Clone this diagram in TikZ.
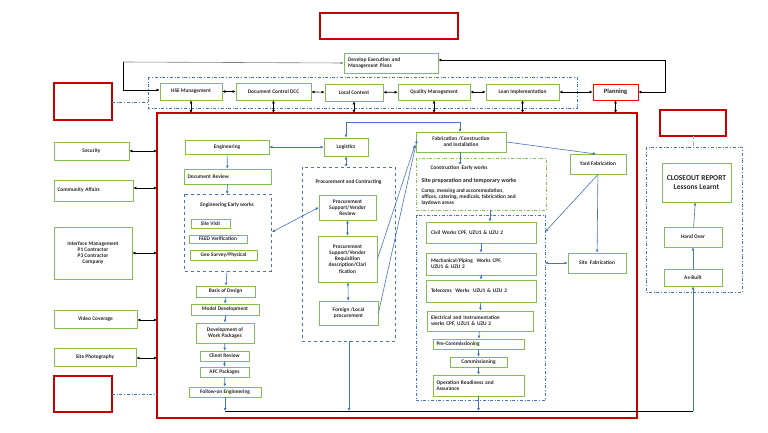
\documentclass[tikz,border=0pt]{standalone}
\usepackage{fontspec}
\setmainfont{Carlito}
\usetikzlibrary{arrows.meta}
\definecolor{gr}{RGB}{130,190,80}
\definecolor{bl}{RGB}{70,114,196}
\definecolor{rd}{RGB}{200,0,0}
\begin{document}
\begin{tikzpicture}[x=1pt,y=-1pt,
 every node/.style={font=\fontsize{5.4}{6.2}\selectfont\bfseries, text=black!85},
 g/.style={draw=gr,line width=0.8pt,align=center,inner sep=0},
 r/.style={draw=rd,line width=1.2pt},
 ba/.style={-{Latex[length=3pt,width=3pt]},bl,line width=0.6pt},
 bd/.style={{Latex[length=3pt,width=3pt]}-{Latex[length=3pt,width=3pt]},bl,line width=0.6pt},
 kd/.style={{Latex[length=3pt,width=3pt]}-{Latex[length=3pt,width=3pt]},black,line width=0.6pt},
 ka/.style={-{Latex[length=3pt,width=3pt]},black,line width=0.6pt},
 dd/.style={draw=bl,dash dot,line width=0.6pt},
 ds/.style={draw=bl,dashed,line width=0.6pt}]
\useasboundingbox (0,0) rectangle (768,433);
% red empty boxes
\draw[r] (320,13) rectangle (458,39);
\draw[r] (54,83) rectangle (112,120);
\draw[r] (54,376) rectangle (112,412);
\draw[r] (660,110) rectangle (726,136);
\draw[rd,line width=1.5pt] (157,113) rectangle (637,418);
% top band
\draw[dd] (148,77) rectangle (577,108);
\node[g,minimum width=94,minimum height=20,align=left,text width=86] (dev) at (391,63) {Develop Execution and\\Management Plans};
\node[g,minimum width=62,minimum height=17] (hse) at (191,91.5) {HSE Management};
\node[g,minimum width=75,minimum height=17] (dcc) at (273.5,91.5) {Document Control DCC};
\node[g,minimum width=58,minimum height=17] (lc) at (354,92.5) {Local Content};
\node[g,minimum width=72,minimum height=16] (qm) at (434,92) {Quality Management};
\node[g,minimum width=73,minimum height=16] (lean) at (522.5,92) {Lean Implementation};
\node[draw=red,line width=0.8pt,minimum width=45,minimum height=16,inner sep=0,font=\fontsize{6.5}{7}\selectfont\bfseries] (plan) at (615.5,92) {Planning};
\draw[kd] (hse) -- (dcc); \draw[kd] (dcc) -- (lc); \draw[kd] (lc) -- (qm); \draw[kd] (qm) -- (lean); \draw[kd] (lean) -- (plan);
\coordinate (tl) at (123,62); \coordinate (tl2) at (123,90);
\draw[gray,line width=0.6pt,-{Latex[length=3pt,width=3pt]}] (tl) -- (dev.west);
\draw[ka] (tl) -- (tl2) -- (hse.west|-tl2);
\coordinate (tr) at (665,60); \coordinate (tr2) at (665,92);
\draw[ka] (tr) -- (dev.east|-tr);
\draw[ka] (tr) -- (tr2) -- (plan.east);
\foreach \n in {hse,dcc,lc,qm,lean,plan}{\draw[kd] (\n.south) -- (\n.south|-{(0,113)});}
\draw[bl,dash dot,line width=0.6pt] (112,102) -- (148,102);
\draw[bl,dash dot,line width=0.6pt] (112,394) -- (157,394);
% left column
\node[g,minimum width=75,minimum height=18] (sec) at (91.5,151) {Security};
\node[g,minimum width=79,minimum height=21,align=left,text width=72] (ca) at (93.5,190.5) {Community Affairs};
\node[g,minimum width=78,minimum height=52] (im) at (93,253) {Interface Management\\P1 Contractor\\P3 Contractor\\Company};
\node[g,minimum width=83,minimum height=18] (vc) at (95.5,319) {Video Coverage};
\node[g,minimum width=82,minimum height=18] (sp) at (95,357) {Site Photography};
\foreach \n/\y in {sec/151,ca/188,im/253,vc/320,sp/358}{\draw[kd] (\n.east|-{(0,\y)}) -- (157,\y);}
% engineering
\node[g,minimum width=84,minimum height=14] (eng) at (227,147) {Engineering};
\node[g,minimum width=87,minimum height=15,align=left,text width=80] (dr) at (227.5,176.5) {Document Review};
\draw[ds] (184,194) rectangle (271,271);
\node (eew) at (227,205) {Engineering Early works};
\node[g,minimum width=39,minimum height=9] (sv) at (210.5,223.5) {Site Visit};
\node[g,minimum width=58,minimum height=8] (fv) at (218,239) {FEED Verification};
\node[g,minimum width=67,minimum height=10] (gs) at (223.5,255) {Geo Survey/Physical};
\coordinate (eewb) at (227,271);
\node[g,minimum width=59,minimum height=11] (bod) at (225.5,291.5) {Basis of Design};
\node[g,minimum width=68,minimum height=11] (md) at (225,309.5) {Model Development};
\node[g,minimum width=58,minimum height=20] (dwp) at (225,333) {Development of\\Work Packages};
\node[g,minimum width=49,minimum height=10] (cr) at (224.5,356) {Client Review};
\node[g,minimum width=49,minimum height=10] (afc) at (224.5,372) {AFC Packages};
\node[g,minimum width=72,minimum height=10] (foe) at (225,392) {Follow-on Engineering};
\draw[ba] (eng) -- (dr); \draw[ba] (dr.south) -- (227,194);
\draw[ba] (eewb) -- (bod); \draw[ba] (bod) -- (md); \draw[ba] (md) -- (dwp); \draw[ba] (dwp) -- (cr); \draw[ba] (cr) -- (afc); \draw[ba] (afc) -- (foe);
\coordinate (bl1) at (225,411); \coordinate (bl2) at (693,411);
\draw[ba] (foe) -- (bl1);
\draw[black,line width=0.8pt] (bl1) -- (bl2);
% procurement
\node[g,minimum width=44,minimum height=18] (log) at (346,147) {Logistics};
\draw[bd] (eng) -- (log);
\draw[ds] (302,167) rectangle (395,341);
\node at (348.5,182) {Procurement and Contracting};
\node[g,minimum width=57,minimum height=25] (psr) at (347.5,207.5) {Procurement\\Support/Vendor\\Review};
\node[g,minimum width=59,minimum height=46] (psq) at (347.5,259) {Procurement\\Support/Vendor\\Requisition\\description/Clari\\fication};
\node[g,minimum width=59,minimum height=24] (fl) at (348.5,313) {Foreign /Local\\procurement};
\draw[bd] (log.south) -- (346,167);
\draw[bd] (psr) -- (psq); \draw[bd] (psq) -- (fl);
\draw[bd] (272,232) -- (psr.west);
\draw[ba] (349,341) -- (349,411);
% fabrication
\node[g,minimum width=90,minimum height=20] (fab) at (461,142) {Fabrication /Construction\\and Installation};
\draw[bd] (log.north) -- (346,122) -- (460,122) -- (460,132);
\draw[ba] (psq.east) -- (415,145);
\draw[ba] (fl.east) -- (417,140);
\node[g,minimum width=56,minimum height=20] (yard) at (598,164) {Yard Fabrication};
\draw[ba] (fab.east) -- (596,154);
\draw[gr,dash dot,line width=0.6pt] (416,158) rectangle (546,210);
\draw[ba] (460,152) -- (460,165);
\node[anchor=west] at (427,168) {Construction\ \ Early works};
\node[anchor=west,font=\fontsize{6}{6.5}\selectfont\bfseries] at (418,181) {Site preparation and temporary works};
\node[anchor=north west,align=left] at (418,185) {Camp, messing and accommodation,\\offices, catering, medicals, fabrication and\\laydown areas};
\draw[dd] (416,215) rectangle (545,400);
\node[g,minimum width=110,minimum height=21,align=left,text width=100] (civ) at (481,232.5) {Civil Works CPF, UZU1 \& UZU 2};
\node[g,minimum width=110,minimum height=22,align=left,text width=100] (mec) at (481,264) {Mechanical/Piping\ \ Works CPF,\\UZU1 \& UZU 2};
\node[g,minimum width=110,minimum height=22,align=left,text width=100] (tel) at (481,291) {Telecoms\ \ Works\ \ UZU1 \& UZU 2};
\node[g,minimum width=106,minimum height=20,align=left,text width=98] (ele) at (480,321) {Electrical and Instrumentation\\works CPF, UZU1 \& UZU 2};
\node[g,minimum width=91,minimum height=10,align=left,text width=84] (pre) at (478.5,344) {Pre-Commissioning};
\node[g,minimum width=57,minimum height=10] (com) at (478.5,362) {Commissioning};
\node[g,minimum width=91,minimum height=21,align=left,text width=84] (op) at (478.5,385.5) {Operation Readiness and\\Assurance};
\draw[ba] (490,210) -- (civ.north-|490,0);
\draw[ba] (civ) -- (mec); \draw[ba] (mec) -- (tel); \draw[ba] (tel) -- (ele); \draw[ba] (ele) -- (pre); \draw[ba] (pre) -- (com); \draw[ba] (com) -- (op);
\draw[ba] (op) -- (478.5,411);
\node[g,minimum width=58,minimum height=20] (site) at (597,263) {Site\ \ Fabrication};
\draw[ba] (yard.south) -- (545,232);
\draw[ba] (yard) -- (site);
\draw[bd] (545,263) -- (site.west);
% closeout
\draw[dd] (646,147) rectangle (742,292);
\draw[bl!60,dash dot,line width=0.5pt] (693,136) -- (693,147);
\node[g,minimum width=69,minimum height=39,font=\fontsize{7.5}{9}\selectfont\bfseries] (clo) at (696.5,182.5) {CLOSEOUT REPORT\\Lessons Learnt};
\node[g,minimum width=58,minimum height=20] (ho) at (693,237) {Hand Over};
\node[g,minimum width=58,minimum height=17] (ab) at (693,277.5) {As-Built};
\draw[ba] (ab) -- (ho); \draw[ba] (ho) -- (clo);
\draw[ba] (bl2) -- (ab.south);
\end{tikzpicture}
\end{document}
